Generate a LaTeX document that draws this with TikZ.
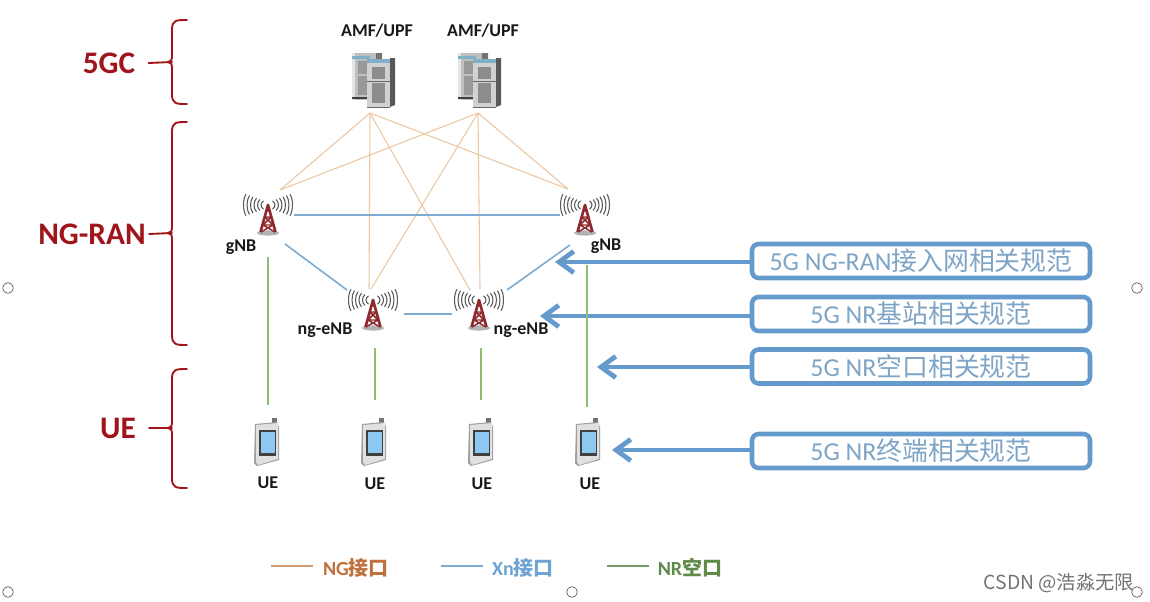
\documentclass[tikz,border=0pt]{standalone}
\usepackage{fontspec}
\setmainfont{Carlito}
\newfontfamily\cjk{Noto Sans CJK SC}
\usetikzlibrary{arrows.meta,calc}
\newcommand{\fs}[1]{\fontsize{#1}{#1}\selectfont}
\definecolor{ngline}{HTML}{EBC7A4}
\definecolor{xnline}{HTML}{7FAAD2}
\definecolor{nrline}{HTML}{8CBF72}
\definecolor{bluebar}{HTML}{659ACC}
\definecolor{boxtext}{HTML}{7FA5C6}
\definecolor{darkred}{HTML}{A0151C}
\definecolor{towerred}{HTML}{8E2A2E}
\definecolor{ngtext}{HTML}{C0703A}
\definecolor{xntext}{HTML}{6FA3D6}
\definecolor{nrtext}{HTML}{5F8A4A}
\definecolor{screenblue}{HTML}{8CC8F0}
\definecolor{cabtop}{HTML}{7FB0C8}
\tikzset{
  ng/.style={ngline,line width=0.8pt},
  xn/.style={xnline,line width=1.2pt},
  nr/.style={nrline,line width=1.3pt},
  icon/.style={inner sep=0pt,minimum width=22pt,minimum height=30pt},
  lab/.style={inner sep=0pt,font=\fs{13.5}\bfseries,text=black!90},
  tier/.style={inner sep=0pt,font=\fs{23.5}\bfseries,text=darkred},
  spec/.style={draw=bluebar,line width=3.4pt,rounded corners=5pt,fill=white,
    minimum width=253.5pt,minimum height=25.5pt,inner sep=0pt,text=boxtext,font=\fs{19.4}},
  specarrow/.style={bluebar,line width=3.6pt,-{Straight Barb[length=11pt,width=16pt,line width=3.6pt]}},
  brace/.style={darkred,line width=1.4pt,line cap=round},
  handle/.style={draw=black!65,line width=0.5pt,circle,minimum size=8pt,inner sep=0pt,fill=white},
  legtext/.style={inner sep=0pt,font=\fs{15}\bfseries},
  server/.pic={
    % back cabinet
    \fill[black!55] (-1,-27) -- (9,-27) -- (9,14) -- (-1,18) -- cycle;
    \fill[black!25] (-21,-27) -- (3,-27) -- (3,20) -- (-21,20) -- cycle;
    \fill[black!10] (-21,-27) rectangle (-18,20);
    \fill[black!40] (-15,-19) rectangle (-3,-6);
    \fill[black!40] (-15,-4) rectangle (-3,15);
    \fill[cabtop] (-21,-24) rectangle (-3,-21);
    \draw[black!75,line width=1pt] (-21,18) -- (-3,18);
    % front cabinet
    \fill[black!65] (17,-22) -- (22,-22) -- (22,25) -- (17,27) -- cycle;
    \fill[black!18] (-6,-21) rectangle (17,27);
    \fill[black!45] (-1,-13) rectangle (12,-1);
    \fill[black!45] (-1,3) rectangle (12,23);
    \fill[cabtop] (-6,-21) rectangle (17,-17);
    \draw[black!60,line width=0.6pt] (-6,1) -- (17,1);
    \draw[black!60,line width=0.6pt] (-6,27) -- (17,27);
  },
  tower/.pic={
    \fill[black!30] (0,28) ellipse (11 and 2.6);
    \foreach \r in {7,10.5,14,17.5,21,24.5}{
      \pgfmathsetmacro{\h}{1.5+\r*0.38}
      \draw[black!65,line width=0.8pt] (-\r+2.5,-\h) .. controls (-\r-0.8,-\h*0.5) and (-\r-0.8,\h*0.5) .. (-\r+2.5,\h);
      \draw[black!65,line width=0.8pt] (\r-2.5,-\h) .. controls (\r+0.8,-\h*0.5) and (\r+0.8,\h*0.5) .. (\r-2.5,\h);
    }
    \draw[towerred,line width=2pt,line join=round] (-7.5,27) -- (0,0) -- (7.5,27);
    \draw[towerred,line width=1.1pt] (-5,20) -- (5,20) (-3,12) -- (3,12) (-1.5,6) -- (1.5,6)
      (-5,20) -- (3,12) (5,20) -- (-3,12) (-7,27) -- (5,20) (7,27) -- (-5,20);
  },
  phone/.pic={
    \fill[black!55] (5,-25) rectangle (10,-19);
    \fill[black!38] (-12,-19) -- (10,-21) -- (12,-16) -- (12,17) -- (-10,23) -- (-13,20) -- cycle;
    \fill[black!12] (-11,-18) -- (11,-20) -- (11,16) -- (-9,22) -- (-11,19) -- cycle;
    \fill[black!75] (-8,-13) rectangle (9,13);
    \fill[screenblue] (-6.5,-11) rectangle (8,10);
  }
}
\begin{document}
\begin{tikzpicture}[x=0.75pt,y=-0.75pt]
\useasboundingbox (0,0) rectangle (1150,601);
\fill[white] (0,0) rectangle (1150,601);

% icons as named nodes
\node[icon] (s1) at (373,80) {};
\node[icon] (s2) at (479,80) {};
\node[icon] (g1) at (268,205) {};
\node[icon] (g2) at (585,205) {};
\node[icon] (e1) at (373,300) {};
\node[icon] (e2) at (479,300) {};
\node[icon] (p1) at (267,443) {};
\node[icon] (p2) at (374,443) {};
\node[icon] (p3) at (481,443) {};
\node[icon] (p4) at (588,443) {};

% connector ends
\coordinate (s1b) at ($(s1)+(-3,33)$);
\coordinate (s2b) at ($(s2)+(-1,33)$);
\coordinate (g1t) at ($(g1)+(12,-15)$);
\coordinate (g2t) at ($(g2)+(-17,-16)$);
\coordinate (g1r) at ($(g1)+(26,10)$);
\coordinate (g2l) at ($(g2)+(-25,10)$);
\coordinate (g1d) at ($(g1)+(17,39)$);
\coordinate (g2d) at ($(g2)+(-15,40)$);
\coordinate (g1g) at ($(g1)+(0,52)$);
\coordinate (g2g) at ($(g2)+(2,60)$);
\coordinate (e1t) at ($(e1)+(-2,-11)$);
\coordinate (e1v) at ($(e1)+(-4,-11)$);
\coordinate (e2t) at ($(e2)+(-9,-10)$);
\coordinate (e2v) at ($(e2)+(1,-11)$);
\coordinate (e1u) at ($(e1)+(-26,-10)$);
\coordinate (e2u) at ($(e2)+(28,-10)$);
\coordinate (e1r) at ($(e1)+(31,14)$);
\coordinate (e2l) at ($(e2)+(-27,14)$);
\coordinate (e1g) at ($(e1)+(2,48)$);
\coordinate (e2g) at ($(e2)+(2,48)$);
\coordinate (p1t) at ($(p1)+(1,-38)$);
\coordinate (p2t) at ($(p2)+(1,-43)$);
\coordinate (p3t) at ($(p3)+(0,-43)$);
\coordinate (p4t) at ($(p4)+(-1,-36)$);

% NG interface
\draw[ng] (s1b) -- (g1t);
\draw[ng] (s1b) -- (e1v);
\draw[ng] (s1b) -- (e2t);
\draw[ng] (s1b) -- (g2t);
\draw[ng] (s2b) -- (g1t);
\draw[ng] (s2b) -- (e1t);
\draw[ng] (s2b) -- (e2v);
\draw[ng] (s2b) -- (g2t);

% Xn interface
\draw[xn] (g1r) -- (g2l);
\draw[xn] (g1d) -- (e1u);
\draw[xn] (e1r) -- (e2l);
\draw[xn] (e2u) -- (g2d);

% icons drawn
\pic at (s1) {server};
\pic at (s2) {server};
\pic at (g1) {tower};
\pic at (g2) {tower};
\pic at (e1) {tower};
\pic at (e2) {tower};
\pic at (p1) {phone};
\pic at (p2) {phone};
\pic at (p3) {phone};
\pic at (p4) {phone};

% labels
\node[lab] at (377,31) {AMF/UPF};
\node[lab] at (483,31) {AMF/UPF};
\node[lab] at (241,247) {gNB};
\node[lab] at (606,246) {gNB};
\node[lab] at (325,330) {ng-eNB};
\node[lab] at (521,330) {ng-eNB};
\node[lab] at (268,483) {UE};
\node[lab] at (375,484) {UE};
\node[lab] at (482,484) {UE};
\node[lab] at (590,484) {UE};

% arrow tips
\coordinate (a1) at (555,262);
\coordinate (a2) at (540,316);
\coordinate (a3) at (597,367);
\coordinate (a4) at (612,450);

% spec boxes
\node[spec] (b1) at (921,261) {5G NG-RAN{\cjk 接入网相关规范}};
\node[spec] (b2) at (921,314) {5G NR{\cjk 基站相关规范}};
\node[spec] (b3) at (921,366.5) {5G NR{\cjk 空口相关规范}};
\node[spec] (b4) at (921,451) {5G NR{\cjk 终端相关规范}};
\draw[specarrow] (b1.west |- a1) -- (a1);
\draw[specarrow] (b2.west |- a2) -- (a2);
\draw[specarrow] (b3.west |- a3) -- (a3);
\draw[specarrow] (b4.west |- a4) -- (a4);

% NR air interface
\draw[nr] (g1g) -- (p1t);
\draw[nr] (e1g) -- (p2t);
\draw[nr] (e2g) -- (p3t);
\draw[nr] (g2g) -- (p4t);

% tiers
\node[tier] (t1) at (109,63) {5GC};
\node[tier] (t2) at (92,234) {NG-RAN};
\node[tier] (t3) at (118,428) {UE};
\coordinate (b5) at (172,62);
\coordinate (b6) at (172,233);
\coordinate (b7) at (172,428);
\draw[brace] (187,20) .. controls (176,20) and (172,20) .. (172,30) -- (172,56) .. controls (172,60) and (171,62) .. (168,62) .. controls (171,62) and (172,64) .. (172,68) -- (172,94) .. controls (172,104) and (176,104) .. (187,104);
\draw[brace] (187,122) .. controls (176,122) and (172,122) .. (172,132) -- (172,227) .. controls (172,231) and (171,233) .. (168,233) .. controls (171,233) and (172,235) .. (172,239) -- (172,335) .. controls (172,345) and (176,345) .. (187,345);
\draw[brace] (187,369) .. controls (176,369) and (172,369) .. (172,379) -- (172,422) .. controls (172,426) and (171,428) .. (168,428) .. controls (171,428) and (172,430) .. (172,434) -- (172,478) .. controls (172,488) and (176,488) .. (187,488);
\draw[brace] (t1.east) ++(13,0) -- (b5);
\draw[brace] (t2.east) ++(3,0) -- (b6);
\draw[brace] (t3.east) ++(13,0) -- (b7);

% legend
\node[legtext,text=ngtext] (l1) at (356,568) {NG{\cjk\bfseries 接口}};
\node[legtext,text=xntext] (l2) at (523,568) {Xn{\cjk\bfseries 接口}};
\node[legtext,text=nrtext] (l3) at (690,568) {NR{\cjk\bfseries 空口}};
\coordinate (k1) at (271,566);
\coordinate (k2) at (441,566);
\coordinate (k3) at (607,566);
\draw[line width=1.1pt,ngtext!70] (k1) -- ++(42,0);
\draw[line width=1.1pt,xnline] (k2) -- ++(42,0);
\draw[line width=1.1pt,nrtext!85] (k3) -- ++(42,0);

% handles
\node[handle] (h1) at (8,288) {};
\node[handle] (h2) at (1137,288) {};
\node[handle] (h3) at (8,592) {};
\node[handle] (h4) at (572,592) {};
\node[handle] (h5) at (1137,592) {};

% watermark
\node[inner sep=0pt,text=black!55,font=\cjk\fs{14.5}] (w) at (1059,583) {CSDN @浩淼无限};
\end{tikzpicture}
\end{document}
